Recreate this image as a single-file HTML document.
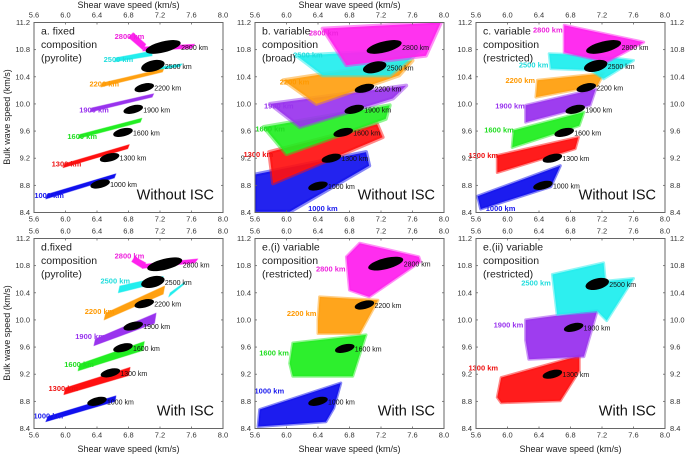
<!DOCTYPE html>
<html><head><meta charset="utf-8"><style>
body{margin:0;background:#fff;}
svg{display:block;font-family:"Liberation Sans",sans-serif;}
</style></head><body>
<svg id="fig" width="685" height="455" viewBox="0 0 685 455"></svg>
<script>
const xTicks=[5.6,6.0,6.4,6.8,7.2,7.6,8.0];
const yTicks=[8.4,8.8,9.2,9.6,10.0,10.4,10.8,11.2];
const depthColors={1000:"#1010ee",1300:"#ff1010",1600:"#22ee22",1900:"#9933ee",2200:"#ffa010",2500:"#22eeee",2800:"#ff22ee"};
const labelColors={1000:"#1a1aee",1300:"#ee1111",1600:"#22dd22",1900:"#9933ee",2200:"#ff9900",2500:"#22dddd",2800:"#ee22dd"};

// panel a
const aDepths=[1000,1300,1600,1900,2200,2500,2500,2800,2800];
const aCloudVs=[[5.75,5.77,6.64,6.62],[5.97,5.99,6.81,6.79],[6.16,6.18,6.97,6.95],[6.31,6.33,7.12,7.10],[6.45,6.47,7.25,7.23],[6.62,6.64,7.1,7.1],[7.2,7.24,7.48,7.45],[6.80,6.86,7.02,6.98],[6.98,7.0,7.64,7.6]];
const aCloudVb=[[8.60,8.67,8.97,8.91],[9.06,9.12,9.40,9.34],[9.49,9.55,9.79,9.73],[9.88,9.94,10.15,10.10],[10.25,10.31,10.52,10.47],[10.62,10.68,10.78,10.71],[10.51,10.55,10.59,10.55],[10.98,11.05,10.88,10.80],[10.78,10.84,10.88,10.82]];
const aBlobVs=[6.44,6.56,6.73,6.86,7.0,7.11,7.24];
const aBlobVb=[8.82,9.21,9.58,9.92,10.24,10.56,10.84];
const aBlobDepth=[1000,1300,1600,1900,2200,2500,2800];
const aLabelDepth=[1000,1300,1600,1900,2200,2500,2800];
const aLabelVs=[5.98,6.2,6.4,6.55,6.68,6.86,7.0];
const aLabelVb=[8.66,9.12,9.53,9.92,10.30,10.66,11.0];

// panel b
const bDepths=[1000,1300,1600,1900,2200,2500,2800];
const bCloudVs=[[5.6,7.01,7.05,6.04,5.6],[5.78,7.15,7.22,5.83],[5.71,7.31,7.26,6.0],[5.79,7.52,7.35,6.17],[5.96,7.6,7.43,6.38],[6.13,7.73,7.31,6.46],[6.46,7.96,7.77,6.76]];
const bCloudVb=[[8.96,9.29,9.09,8.41,8.41],[9.29,9.70,9.51,8.83],[9.66,9.98,9.78,9.26],[10.0,10.27,10.08,9.66],[10.35,10.64,10.42,10.0],[10.71,10.81,10.42,10.42],[11.11,11.2,10.71,10.57]];
const bBlobVs=[6.4,6.57,6.72,6.86,6.99,7.12,7.24];
const bBlobVb=[8.79,9.2,9.58,9.92,10.23,10.54,10.84];
const bBlobDepth=[1000,1300,1600,1900,2200,2500,2800];
const bLabelDepth=[1000,1300,1600,1900,2200,2500,2800];
const bLabelVs=[6.65,5.83,5.98,6.09,6.29,6.46,6.66];
const bLabelVb=[8.47,9.26,9.64,9.98,10.33,10.73,11.05];

// panel c
const cDepths=[1000,1300,1600,1900,2200,2500,2500,2800];
const cCloudVs=[[5.62,6.67,6.55,5.66],[5.87,6.9,6.86,5.87],[6.08,6.97,6.91,6.06],[6.23,7.12,7.05,6.23],[6.38,7.22,7.14,6.36],[6.53,7.05,7.05,6.55],[7.05,7.6,7.22,7.05],[6.72,7.73,7.26,6.72]];
const cCloudVb=[[8.64,9.09,8.78,8.45],[9.24,9.51,9.34,8.99],[9.61,9.88,9.68,9.36],[9.98,10.22,9.98,9.73],[10.35,10.45,10.27,10.1],[10.74,10.72,10.50,10.52],[10.72,10.64,10.37,10.50],[11.16,10.91,10.62,10.76]];
const cBlobVs=[6.45,6.57,6.72,6.86,7.0,7.12,7.22];
const cBlobVb=[8.8,9.2,9.58,9.92,10.24,10.56,10.84];
const cBlobDepth=[1000,1300,1600,1900,2200,2500,2800];
const cLabelDepth=[1000,1300,1600,1900,2200,2500,2800];
const cLabelVs=[6.10,5.88,6.08,6.22,6.35,6.52,6.7];
const cLabelVb=[8.47,9.25,9.62,9.98,10.35,10.58,11.1];

// panel d
const dDepths=[1000,1300,1600,1900,2200,2500,2500,2800,2800];
const dCloudVs=[[5.75,5.78,6.64,6.63],[5.98,6.0,6.82,6.8],[6.16,6.18,7.0,6.98],[6.36,6.38,7.15,7.13],[6.49,6.51,7.26,7.24],[6.67,6.69,7.24,7.22],[7.31,7.33,7.52,7.5],[6.84,6.88,7.02,6.98],[6.98,7.0,7.68,7.64]];
const dCloudVb=[[8.50,8.58,8.88,8.80],[8.90,9.0,9.30,9.18],[9.25,9.35,9.68,9.55],[9.62,9.72,10.10,9.95],[10.0,10.1,10.50,10.38],[10.40,10.50,10.64,10.56],[10.34,10.40,10.56,10.52],[10.86,10.93,10.84,10.76],[10.76,10.82,10.90,10.84]];
const dBlobVs=[6.4,6.57,6.73,6.86,7.0,7.11,7.26];
const dBlobVb=[8.8,9.22,9.59,9.91,10.24,10.56,10.82];
const dBlobDepth=[1000,1300,1600,1900,2200,2500,2800];
const dLabelDepth=[1000,1300,1600,1900,2200,2500,2800];
const dLabelVs=[5.97,6.16,6.36,6.5,6.62,6.82,7.0];
const dLabelVb=[8.59,9.0,9.35,9.76,10.13,10.58,10.95];

// panel e(i)
const eiDepths=[1000,1600,2200,2800];
const eiCloudVs=[[5.64,5.66,6.69,6.6,6.5],[6.04,6.08,7.01,6.84,6.08],[6.40,6.42,7.16,6.93,6.4],[6.76,6.93,7.68,7.7,7.05,6.8]];
const eiCloudVb=[[8.43,8.68,9.07,8.7,8.5],[9.36,9.66,9.78,9.17,9.17],[10.0,10.34,10.29,9.8,9.8],[10.93,11.13,10.93,10.86,10.34,10.44]];
const eiBlobVs=[6.4,6.74,6.99,7.26];
const eiBlobVb=[8.8,9.58,10.22,10.83];
const eiBlobDepth=[1000,1600,2200,2800];
const eiLabelDepth=[1000,1600,2200,2800];
const eiLabelVs=[5.97,6.03,6.38,6.75];
const eiLabelVb=[8.96,9.52,10.1,10.76];

// panel e(ii)
const eiiDepths=[1300,1900,2500];
const eiiCloudVs=[[5.87,5.92,6.29,6.91,6.91,6.67,5.92],[6.23,7.14,6.97,6.27,6.23],[6.57,7.22,7.24,7.6,7.26,7.14,6.63]];
const eiiCloudVb=[[8.86,9.15,9.27,9.47,9.25,8.81,8.78],[10.0,10.14,9.46,9.42,9.7],[10.67,10.84,10.57,10.61,9.99,10.13,10.08]];
const eiiBlobVs=[6.57,6.84,7.14];
const eiiBlobVb=[9.2,9.89,10.53];
const eiiBlobDepth=[1300,1900,2500];
const eiiLabelDepth=[1300,1900,2500];
const eiiLabelVs=[5.88,6.2,6.55];
const eiiLabelVb=[9.3,9.93,10.55];

const NS="http://www.w3.org/2000/svg";
const svg=document.getElementById('fig');
function mk(tag,attrs,parent,txt){const e=document.createElementNS(NS,tag);for(const k in attrs)e.setAttribute(k,attrs[k]);if(txt!==undefined)e.textContent=txt;(parent||svg).appendChild(e);return e;}

const W=189,H=190;
const panels=[
 {id:'a',x0:34,y0:22.5,title:['a.  fixed','composition','(pyrolite)'],isc:'Without ISC',depths:aDepths,cvs:aCloudVs,cvb:aCloudVb,bvs:aBlobVs,bvb:aBlobVb,bd:aBlobDepth,ld:aLabelDepth,lvs:aLabelVs,lvb:aLabelVb,topTitle:true,right:false,op:1,sw:1},
 {id:'b',x0:255,y0:22.5,title:['b. variable','composition','(broad)'],isc:'Without ISC',depths:bDepths,cvs:bCloudVs,cvb:bCloudVb,bvs:bBlobVs,bvb:bBlobVb,bd:bBlobDepth,ld:bLabelDepth,lvs:bLabelVs,lvb:bLabelVb,topTitle:true,right:false,op:0.92,sw:4},
 {id:'c',x0:476,y0:22.5,title:['c. variable','composition','(restricted)'],isc:'Without ISC',depths:cDepths,cvs:cCloudVs,cvb:cCloudVb,bvs:cBlobVs,bvb:cBlobVb,bd:cBlobDepth,ld:cLabelDepth,lvs:cLabelVs,lvb:cLabelVb,topTitle:false,right:true,op:0.95,sw:3},
 {id:'d',x0:34,y0:238.5,title:['d.fixed','composition','(pyrolite)'],isc:'With ISC',depths:dDepths,cvs:dCloudVs,cvb:dCloudVb,bvs:dBlobVs,bvb:dBlobVb,bd:dBlobDepth,ld:dLabelDepth,lvs:dLabelVs,lvb:dLabelVb,bottomTitle:true,right:false,op:1,sw:1},
 {id:'e-i',x0:255,y0:238.5,title:['e.(i) variable','composition','(restricted)'],isc:'With ISC',depths:eiDepths,cvs:eiCloudVs,cvb:eiCloudVb,bvs:eiBlobVs,bvb:eiBlobVb,bd:eiBlobDepth,ld:eiLabelDepth,lvs:eiLabelVs,lvb:eiLabelVb,bottomTitle:true,right:false,op:0.95,sw:3},
 {id:'e-ii',x0:476,y0:238.5,title:['e.(ii) variable','composition','(restricted)'],isc:'With ISC',depths:eiiDepths,cvs:eiiCloudVs,cvb:eiiCloudVb,bvs:eiiBlobVs,bvb:eiiBlobVb,bd:eiiBlobDepth,ld:eiiLabelDepth,lvs:eiiLabelVs,lvb:eiiLabelVb,bottomTitle:true,right:true,op:0.95,sw:3}
];

panels.forEach(p=>{
  const sx=v=>p.x0+(v-5.6)/2.4*W;
  const sy=v=>p.y0+(11.2-v)/2.8*H;
  const g=mk('g',{});
  
  
  const cid='clip-'+p.id;
  const cp=mk('clipPath',{id:cid},g);mk('rect',{x:p.x0,y:p.y0,width:W,height:H},cp);
  const fr=mk('rect',{x:p.x0,y:p.y0,width:W,height:H,fill:'#fff',stroke:'none'},g);
  
  
  const cg=mk('g',{'clip-path':'url(#'+cid+')'},g);
  p.depths.forEach((d,i)=>{
    const pts=p.cvs[i].map((v,j)=>sx(v).toFixed(1)+','+sy(p.cvb[i][j]).toFixed(1)).join(' ');
    const c=mk('polygon',{points:pts,fill:depthColors[d],stroke:depthColors[d],'stroke-width':p.sw,'stroke-opacity':0.5,'stroke-linejoin':'round','fill-opacity':p.op},cg);
    
    
  });
  p.bvs.forEach((v,i)=>{
    const d=p.bd[i];const rx=d>=2800?18:(d>=2500?12:10);const ry=d>=2500?5.5:4;
    const cx=sx(v),cy=sy(p.bvb[i]);
    const b=mk('ellipse',{cx:cx,cy:cy,rx:rx,ry:ry,fill:'#000',transform:'rotate(-14 '+cx+' '+cy+')'},cg);
    
    
    const t=mk('text',{x:cx+rx,y:cy+3,'font-size':7,fill:'#111'},cg,d+' km');
    
    
  });
  p.ld.forEach((d,i)=>{
    const t=mk('text',{x:sx(p.lvs[i]),y:sy(p.lvb[i])+3,'font-size':7.5,'font-weight':'bold','text-anchor':'end',fill:labelColors[d]},g,d+' km');
    
    
  });
  const frame=mk('rect',{x:p.x0,y:p.y0,width:W,height:H,fill:'none',stroke:'#666','stroke-width':1},g);
  
  
  p.title.forEach((s,k)=>{
    const t=mk('text',{x:p.x0+7,y:p.y0+12+k*13.5,'font-size':10.5,fill:'#222'},g,s);
    
    
  });
  const it=mk('text',{x:p.x0+W-9,y:p.y0+H-13,'font-size':14.5,'text-anchor':'end',fill:'#111'},g,p.isc);
  
  
  xTicks.forEach(v=>{
    const x=sx(v);
    mk('line',{x1:x,x2:x,y1:p.y0,y2:p.y0+2,stroke:'#666','stroke-width':0.8},g);
    mk('line',{x1:x,x2:x,y1:p.y0+H,y2:p.y0+H-2,stroke:'#666','stroke-width':0.8},g);
    const t1=mk('text',{x:x,y:p.y0-5,'font-size':7.5,'text-anchor':'middle',fill:'#333'},g,v.toFixed(1));
    
    
    const t2=mk('text',{x:x,y:p.y0+H+9,'font-size':7.5,'text-anchor':'middle',fill:'#333'},g,v.toFixed(1));
    
    
  });
  yTicks.forEach(v=>{
    const y=sy(v);
    mk('line',{x1:p.x0,x2:p.x0+2,y1:y,y2:y,stroke:'#666','stroke-width':0.8},g);
    mk('line',{x1:p.x0+W,x2:p.x0+W-2,y1:y,y2:y,stroke:'#666','stroke-width':0.8},g);
    const t=mk('text',{x:p.x0-4,y:y+2.5,'font-size':7.5,'text-anchor':'end',fill:'#333'},g,v.toFixed(1));
    
    
    if(p.right){
      const t2=mk('text',{x:p.x0+W+5,y:y+2.5,'font-size':7.5,fill:'#333'},g,v.toFixed(1));
      
      
    }
  });
  if(p.topTitle){
    const t=mk('text',{x:p.x0+W/2,y:8,'font-size':9,'text-anchor':'middle',fill:'#222'},g,'Shear wave speed (km/s)');
    
    
  }
  if(p.bottomTitle){
    const t=mk('text',{x:p.x0+W/2,y:452,'font-size':9,'text-anchor':'middle',fill:'#222'},g,'Shear wave speed (km/s)');
    
    
  }
});
[117,333].forEach(cy=>{
  const t=mk('text',{x:0,y:0,'font-size':9,'text-anchor':'middle',fill:'#222',transform:'translate(10 '+cy+') rotate(-90)'},svg,'Bulk wave speed (km/s)');
  
  
});
</script>
</body></html>
